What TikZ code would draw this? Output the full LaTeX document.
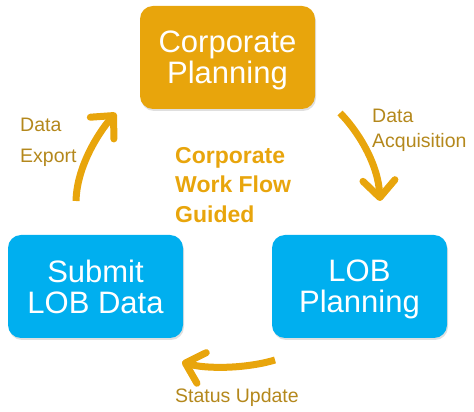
\documentclass[tikz,border=0pt]{standalone}
\usepackage{fontspec}
\setmainfont{Liberation Sans}
\usetikzlibrary{arrows.meta,shadows}
\definecolor{corporange}{RGB}{232,165,12}
\definecolor{lobblue}{RGB}{0,175,239}
\definecolor{labelgold}{RGB}{180,136,28}

\begin{document}
\begin{tikzpicture}[x=1pt,y=1pt,
  box/.style={rounded corners=13pt, minimum width=175pt, minimum height=103pt,
    text=white, align=center, text depth=0pt, font=\fontsize{31}{31}\selectfont,
    drop shadow={opacity=0.25,shadow xshift=1pt,shadow yshift=-2pt}},
  flow/.style={line width=7pt, draw=corporange,
    -{Straight Barb[length=17pt,width=32pt,round]}},
  lbl/.style={text=labelgold, align=left, inner sep=0pt, anchor=north west},
]
\useasboundingbox (0,0) rectangle (474,412);

 % the three steps
 \node[box, fill=corporange] (corp) at (227.5,354.5) {Corporate\\Planning};
 \node[box, fill=lobblue] (submit) at (95.5,125.5) {Submit\\LOB Data};
 \node[box, fill=lobblue] (lob) at (359.5,125.5) {LOB\\Planning};

 % middle text
 \node[anchor=north west, inner sep=0pt, align=left, text=corporange,
   font=\fontsize{23}{29.5}\selectfont\bfseries] (guide) at (175,265)
   {Corporate\\Work Flow\\Guided};

 % arrows between the steps
 \coordinate (exportA) at (76,211);
 \coordinate (exportB) at (116,299);
 \draw[flow] (exportA) .. controls (77,250) and (104,286) .. (exportB);
 \coordinate (acqA) at (340,299);
 \coordinate (acqB) at (380,211);
 \draw[flow] (acqA) .. controls (356,283) and (378,250) .. (acqB);
 \coordinate (statA) at (275,52);
 \coordinate (statB) at (182,50);
 \draw[flow] (statA) .. controls (245,43) and (205,43) .. (statB);

 % labels
 \node[lbl, font=\fontsize{19.5}{31}\selectfont] (export) at (20,294) {Data\\Export};
 \node[lbl, font=\fontsize{19.5}{25}\selectfont] (acq) at (372,303) {Data\\Acquisition};
 \node[lbl, font=\fontsize{19.5}{25}\selectfont] (status) at (175,24) {Status Update};

\end{tikzpicture}
\end{document}
